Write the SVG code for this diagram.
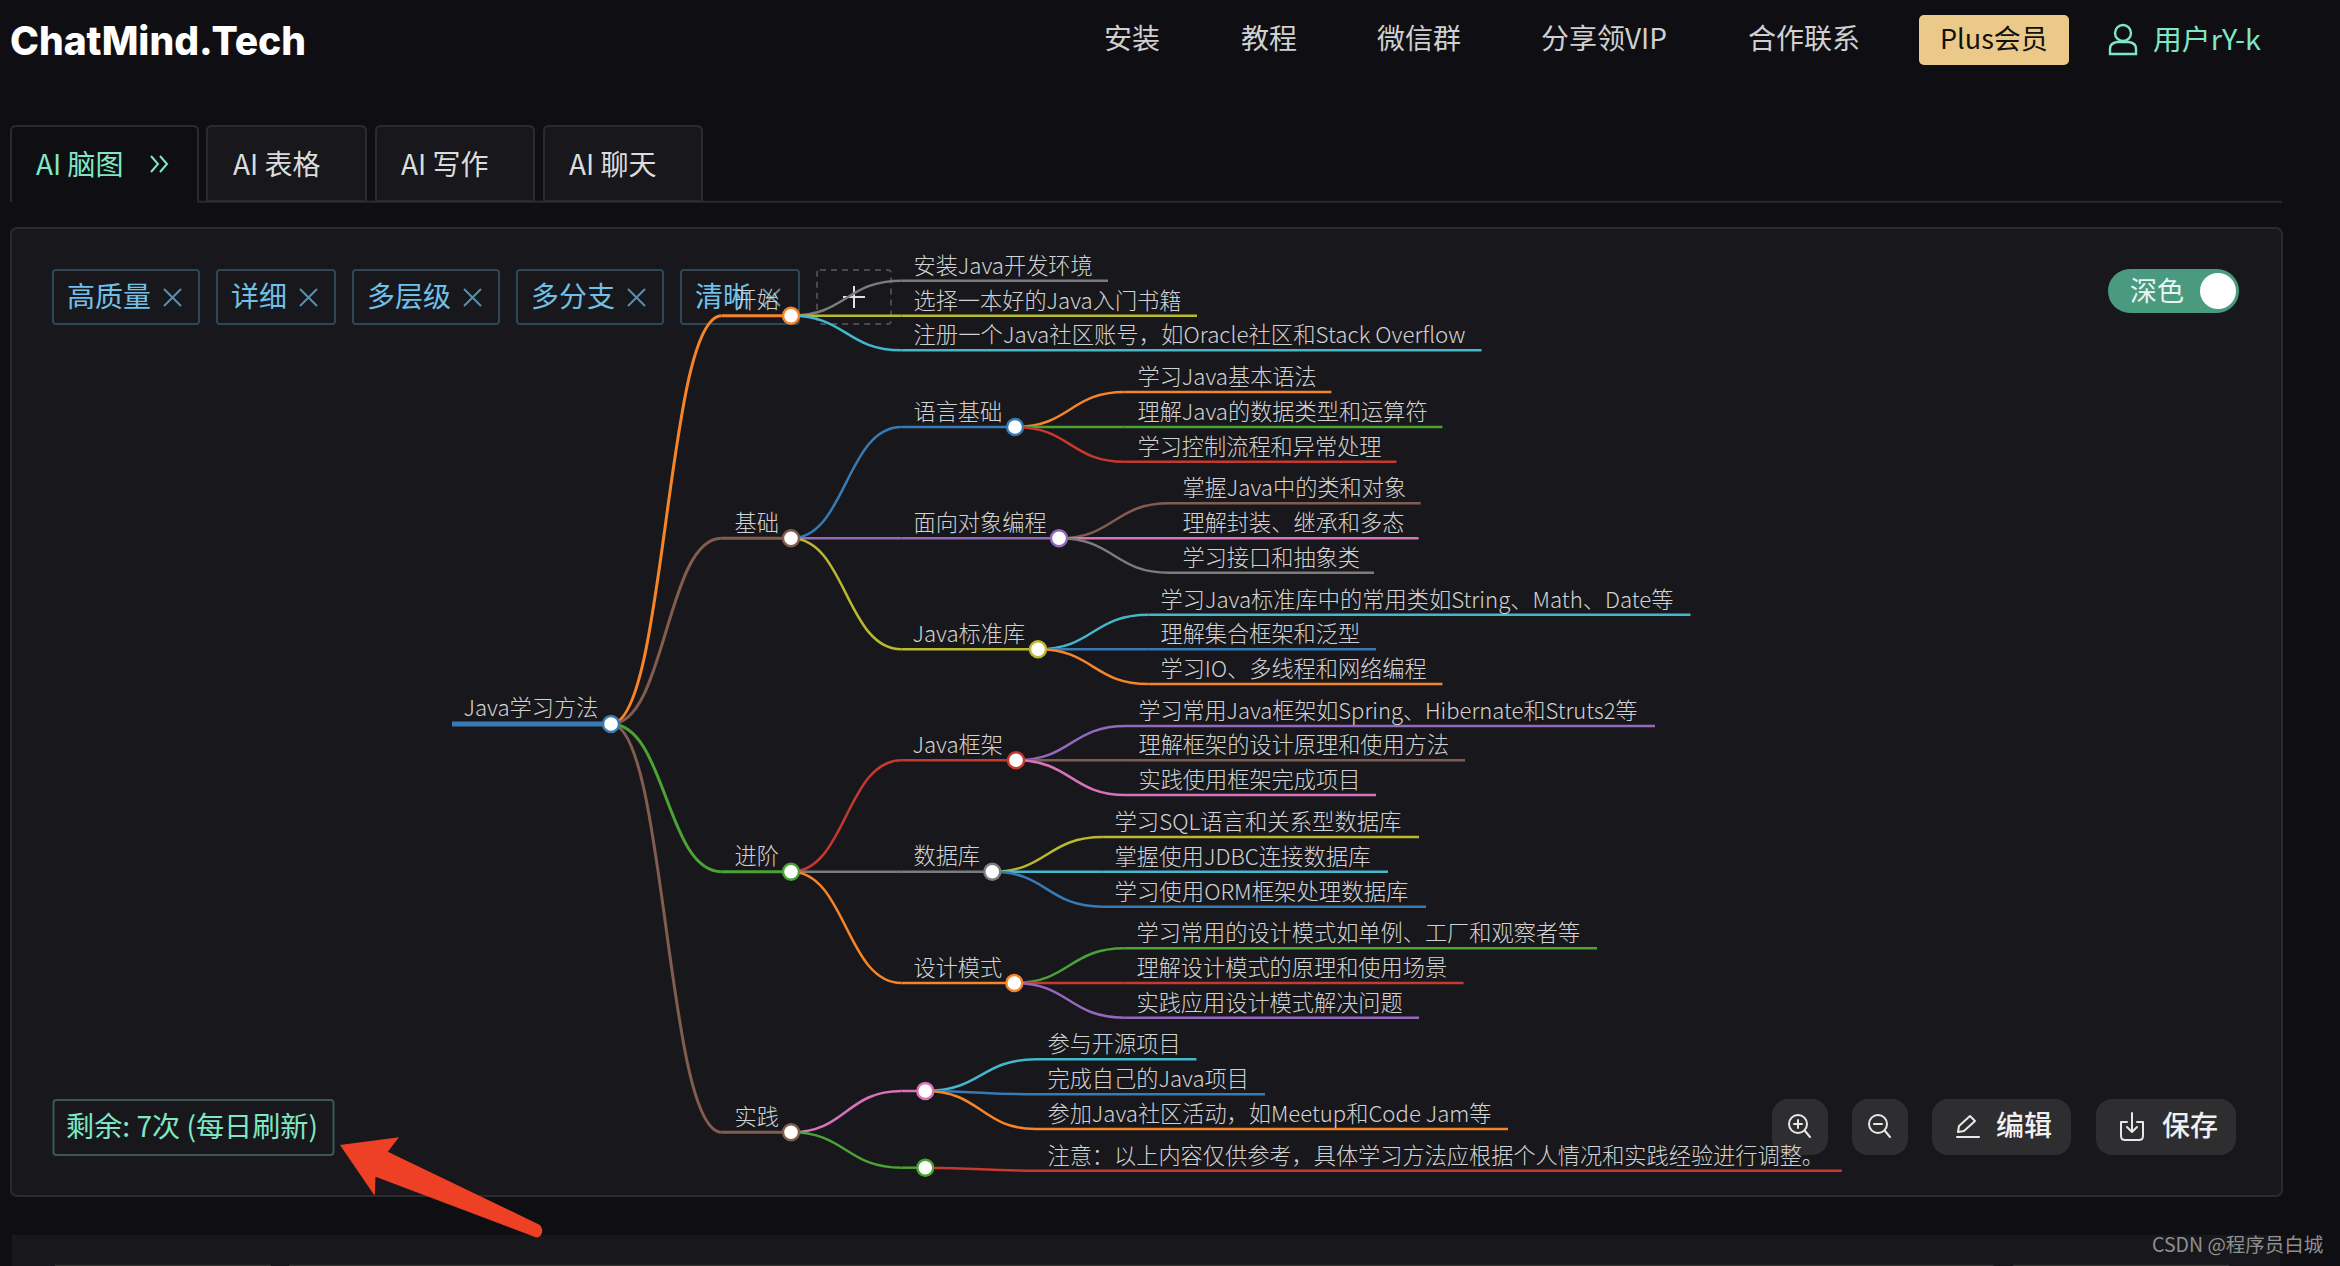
<svg xmlns="http://www.w3.org/2000/svg" width="2340" height="1266" viewBox="0 0 2340 1266">
<style>
text{font-family:"Noto Sans CJK SC","Noto Sans",sans-serif}
.m{font-size:22.2px;fill:#d2d2d2;font-weight:300;transform:translate(-.5px,-1px)}
.nav{font-size:28px;fill:#d0d0d0;font-weight:400}
.tab{font-size:28px;fill:#dcdcdc;font-weight:400}
.tag{font-size:28px;fill:#70c0e8;font-weight:400}
.x{stroke:#5c8ea8;stroke-width:2;fill:none}
.tagb{fill:#18181c;stroke:#2d4757;stroke-width:2}
.btn{fill:#2e2e31}
.ic{stroke:#e8e8e8;stroke-width:2;fill:none;stroke-linecap:round;stroke-linejoin:round}
.bt{font-size:28px;fill:#f0f0f0;font-weight:500}
.tb{fill:#18181c;stroke:#2a2b30;stroke-width:2}
path,line{fill:none}
.l{stroke-width:2.5}
.l1{stroke-width:3}
.blue{stroke:#387bb4}.orange{stroke:#f68428}.grn{stroke:#4aa334}.red{stroke:#c7382f}.purple{stroke:#9468bd}.brown{stroke:#835c50}.pink{stroke:#d873bb}.gray{stroke:#7c7c7c}.olive{stroke:#b9b82f}.cyan{stroke:#43b7cb}
circle.n{fill:#fff;stroke-width:2.4}
</style>
<rect id="bg" width="2340" height="1266" fill="#0f0f13"/>
<rect x="12" y="1235" width="2268" height="31" fill="#18181c"/>
<g stroke="#333" stroke-width="1.5"><line x1="55" y1="1265.5" x2="271" y2="1265.5"/><line x1="289" y1="1265.5" x2="1994" y2="1265.5"/><line x1="2013" y1="1265.5" x2="2229" y2="1265.5"/></g>
<g id="header">
<text x="10" y="55" font-size="40" font-weight="800" fill="#fff" style="font-family:Inter,'Liberation Sans',sans-serif" textLength="296" lengthAdjust="spacingAndGlyphs">ChatMind.Tech</text>
<text class="nav" x="1104" y="49">安装</text>
<text class="nav" x="1241" y="49">教程</text>
<text class="nav" x="1377" y="49">微信群</text>
<text class="nav" x="1541" y="49">分享领VIP</text>
<text class="nav" x="1748" y="49">合作联系</text>
<rect x="1919" y="15" width="150" height="50" rx="5" fill="#ebc988"/>
<text x="1940" y="49" font-size="27" fill="#111">Plus会员</text>
<circle cx="2123" cy="33" r="8" fill="none" stroke="#7fe7c4" stroke-width="2.4"/>
<path d="M2110 54V49Q2110 43 2117 42H2129Q2136 43 2136 49V54Z" stroke="#7fe7c4" stroke-width="2.4"/>
<text class="nav" x="2153" y="50" style="fill:#7fe7c4" textLength="108" lengthAdjust="spacingAndGlyphs">用户rY-k</text>
</g>
<g id="tabs">
<path d="M11 202V131Q11 126 16 126H193Q198 126 198 131V202" fill="#101014" stroke="#2a2b30" stroke-width="2"/>
<path d="M207 201V131Q207 126 212 126H361Q366 126 366 131V201Z" class="tb"/>
<path d="M376 201V131Q376 126 381 126H529Q534 126 534 131V201Z" class="tb"/>
<path d="M544 201V131Q544 126 549 126H697Q702 126 702 131V201Z" class="tb"/>
<line x1="198" y1="201.7" x2="2282" y2="201.7" stroke="#2a2b30" stroke-width="2"/>
<text class="tab" x="36" y="175" style="fill:#7fe7c4">AI 脑图</text>
<path d="M151 156L158 164L151 172M160 156L167 164L160 172" stroke="#7fe7c4" stroke-width="2"/>
<text class="tab" x="233" y="175">AI 表格</text>
<text class="tab" x="401" y="175">AI 写作</text>
<text class="tab" x="569" y="175">AI 聊天</text>
</g>
<rect id="panel" x="11" y="228" width="2271" height="968" rx="6" fill="#18181c" stroke="#2a2b30" stroke-width="2"/>
<g id="tags">
<rect class="tagb" x="53" y="270" width="146" height="54" rx="3"/><text class="tag" x="67" y="307">高质量</text><path class="x" d="M164 289L181 306M181 289L164 306"/>
<rect class="tagb" x="217" y="270" width="118" height="54" rx="3"/><text class="tag" x="231" y="307">详细</text><path class="x" d="M300 289L317 306M317 289L300 306"/>
<rect class="tagb" x="353" y="270" width="146" height="54" rx="3"/><text class="tag" x="367" y="307">多层级</text><path class="x" d="M464 289L481 306M481 289L464 306"/>
<rect class="tagb" x="517" y="270" width="146" height="54" rx="3"/><text class="tag" x="531" y="307">多分支</text><path class="x" d="M628 289L645 306M645 289L628 306"/>
<rect class="tagb" x="681" y="270" width="118" height="54" rx="3"/><text class="tag" x="695" y="307">清晰</text><path class="x" d="M763 289L780 306M780 289L763 306"/>
<rect x="817" y="270" width="74" height="54" rx="3" fill="none" stroke="#4a4a4e" stroke-width="2" stroke-dasharray="6 5"/>
<path d="M843 297H865M854 286V308" stroke="#e0e0e0" stroke-width="2"/>
</g>
<g id="theme-toggle">
<rect x="2108" y="269" width="131" height="44" rx="22" fill="#4a9a80"/>
<circle cx="2218" cy="291" r="18" fill="#fff"/>
<text x="2130" y="301" font-size="27" fill="#e8f4ef">深色</text>
</g>
<g id="remaining">
<rect x="53.500" y="1100" width="280" height="55" rx="3" fill="#18181c" stroke="#3a5a50" stroke-width="2"/>
<text x="66" y="1137" font-size="28" style="fill:#7fe7c4" textLength="252" lengthAdjust="spacingAndGlyphs">剩余: 7次 (每日刷新)</text>
</g>
<g id="toolbar">
<rect class="btn" x="1772" y="1099" width="56" height="56" rx="16"/>
<circle class="ic" cx="1798" cy="1124" r="9"/><path class="ic" d="M1805 1131L1810 1137M1794 1124H1802M1798 1120V1128"/>
<rect class="btn" x="1852" y="1099" width="56" height="56" rx="16"/>
<circle class="ic" cx="1878" cy="1124" r="9"/><path class="ic" d="M1885 1131L1890 1137M1874 1124H1882"/>
<rect class="btn" x="1932" y="1099" width="139" height="56" rx="16"/>
<path class="ic" d="M1958 1132L1959 1126L1970 1116L1975 1121L1964 1131ZM1957 1137H1979"/>
<text class="bt" x="1996" y="1136">编辑</text>
<rect class="btn" x="2096" y="1099" width="140" height="56" rx="16"/>
<path class="ic" d="M2127 1122H2121V1136Q2121 1140 2125 1140H2139Q2143 1140 2143 1136V1122H2137M2132 1113V1132M2127 1127L2132 1132L2137 1127"/>
<text class="bt" x="2162" y="1136">保存</text>
</g>
<g id="connectors" class="l">
<path class="orange l1" d="M611 724C666 724 666 315.700 721.600 315.700"/>
<path class="brown l1" d="M611 724C666 724 666 538.300 721.600 538.300"/>
<path class="grn l1" d="M611 724C666 724 666 871.700 721.600 871.700"/>
<path class="brown l1" d="M611 724C666 724 666 1132.300 721.600 1132.300"/>
<path class="gray" d="M791 315.700C846 315.700 846 280.700 901.600 280.700"/>
<path class="olive" d="M791 315.700H901.600"/>
<path class="cyan" d="M791 315.700C846 315.700 846 350.300 901.600 350.300"/>
<path class="blue" d="M791 538.300C846 538.300 846 427 901.600 427"/>
<path class="purple" d="M791 538.300H901.600"/>
<path class="olive" d="M791 538.300C846 538.300 846 649.300 901.600 649.300"/>
<path class="red" d="M791 871.700C846 871.700 846 760.300 901.600 760.300"/>
<path class="gray" d="M791 871.700H901.600"/>
<path class="orange" d="M791 871.700C846 871.700 846 983 901.600 983"/>
<path class="pink" d="M791 1132.300C846 1132.300 846 1091 901.600 1091"/>
<path class="grn" d="M791 1132.300C846 1132.300 846 1167.700 901.600 1167.700"/>
<path class="orange" d="M1015 427C1070 427 1070 392 1124.600 392"/>
<path class="grn" d="M1015 427H1124.600"/>
<path class="red" d="M1015 427C1070 427 1070 461.700 1124.600 461.700"/>
<path class="brown" d="M1059 538.300C1114 538.300 1114 503.300 1169 503.300"/>
<path class="pink" d="M1059 538.300H1169"/>
<path class="gray" d="M1059 538.300C1114 538.300 1114 572.700 1169 572.700"/>
<path class="cyan" d="M1038 649.300C1093 649.300 1093 614.700 1148.400 614.700"/>
<path class="blue" d="M1038 649.300H1148.400"/>
<path class="orange" d="M1038 649.300C1093 649.300 1093 684 1148.400 684"/>
<path class="purple" d="M1016 760.300C1071 760.300 1071 726 1125.900 726"/>
<path class="brown" d="M1016 760.300H1125.900"/>
<path class="pink" d="M1016 760.300C1071 760.300 1071 795 1125.900 795"/>
<path class="olive" d="M992.300 871.700C1047 871.700 1047 837 1102.800 837"/>
<path class="cyan" d="M992.300 871.700H1102.800"/>
<path class="blue" d="M992.300 871.700C1047 871.700 1047 906.700 1102.800 906.700"/>
<path class="grn" d="M1014.300 983C1069 983 1069 948.300 1124.700 948.300"/>
<path class="red" d="M1014.300 983H1124.700"/>
<path class="purple" d="M1014.300 983C1069 983 1069 1017.700 1124.700 1017.700"/>
<path class="cyan" d="M925.300 1091C981 1091 981 1059.300 1036 1059.300"/>
<path class="blue" d="M925.300 1091C981 1091 981 1094.300 1036 1094.300"/>
<path class="orange" d="M925.300 1091C981 1091 981 1129 1036 1129"/>
<path class="red" d="M925.300 1167.700C981 1167.700 981 1170.700 1036 1170.700"/>
</g>
<g id="n-root"><line class="blue" x1="452" y1="724" x2="611" y2="724" stroke-width="5"/><circle class="n blue" cx="611" cy="724" r="8"/><text class="m" x="464" y="717">Java学习方法</text></g>
<g id="n-start"><line class="orange l1" x1="721.600" y1="315.700" x2="791" y2="315.700"/><circle class="n orange" cx="791" cy="315.700" r="8"/><text class="m" x="735" y="309">开始</text></g>
<g id="n-start-1"><line class="gray l" x1="901.600" y1="280.700" x2="1108" y2="280.700"/><text class="m" x="914" y="275">安装Java开发环境</text></g>
<g id="n-start-2"><line class="olive l" x1="901.600" y1="315.700" x2="1197" y2="315.700"/><text class="m" x="914" y="310">选择一本好的Java入门书籍</text></g>
<g id="n-start-3"><line class="cyan l" x1="901.600" y1="350.300" x2="1481.500" y2="350.300"/><text class="m" x="914" y="344" textLength="552" lengthAdjust="spacingAndGlyphs">注册一个Java社区账号，如Oracle社区和Stack Overflow</text></g>
<g id="n-basic"><line class="brown l1" x1="721.600" y1="538.300" x2="791" y2="538.300"/><circle class="n brown" cx="791" cy="538.300" r="8"/><text class="m" x="735" y="532">基础</text></g>
<g id="n-lang"><line class="blue l" x1="901.600" y1="427" x2="1015" y2="427"/><circle class="n blue" cx="1015" cy="427" r="8"/><text class="m" x="914" y="421">语言基础</text></g>
<g id="n-lang-1"><line class="orange l" x1="1124.600" y1="392" x2="1331.400" y2="392"/><text class="m" x="1138" y="386">学习Java基本语法</text></g>
<g id="n-lang-2"><line class="grn l" x1="1124.600" y1="427" x2="1442.400" y2="427"/><text class="m" x="1138" y="421">理解Java的数据类型和运算符</text></g>
<g id="n-lang-3"><line class="red l" x1="1124.600" y1="461.700" x2="1396.500" y2="461.700"/><text class="m" x="1138" y="456">学习控制流程和异常处理</text></g>
<g id="n-oop"><line class="purple l" x1="901.600" y1="538.300" x2="1059" y2="538.300"/><circle class="n purple" cx="1059" cy="538.300" r="8"/><text class="m" x="914" y="532">面向对象编程</text></g>
<g id="n-oop-1"><line class="brown l" x1="1169" y1="503.300" x2="1420.700" y2="503.300"/><text class="m" x="1183" y="497">掌握Java中的类和对象</text></g>
<g id="n-oop-2"><line class="pink l" x1="1169" y1="538.300" x2="1418.600" y2="538.300"/><text class="m" x="1183" y="532">理解封装、继承和多态</text></g>
<g id="n-oop-3"><line class="gray l" x1="1169" y1="572.700" x2="1374" y2="572.700"/><text class="m" x="1183" y="567">学习接口和抽象类</text></g>
<g id="n-lib"><line class="olive l" x1="901.600" y1="649.300" x2="1038" y2="649.300"/><circle class="n olive" cx="1038" cy="649.300" r="8"/><text class="m" x="913" y="643">Java标准库</text></g>
<g id="n-lib-1"><line class="cyan l" x1="1148.400" y1="614.700" x2="1690.500" y2="614.700"/><text class="m" x="1161" y="609" textLength="513" lengthAdjust="spacingAndGlyphs">学习Java标准库中的常用类如String、Math、Date等</text></g>
<g id="n-lib-2"><line class="blue l" x1="1148.400" y1="649.300" x2="1376" y2="649.300"/><text class="m" x="1161" y="643">理解集合框架和泛型</text></g>
<g id="n-lib-3"><line class="orange l" x1="1148.400" y1="684" x2="1442.400" y2="684"/><text class="m" x="1161" y="678">学习IO、多线程和网络编程</text></g>
<g id="n-adv"><line class="grn l1" x1="721.600" y1="871.700" x2="791" y2="871.700"/><circle class="n grn" cx="791" cy="871.700" r="8"/><text class="m" x="735" y="865">进阶</text></g>
<g id="n-fw"><line class="red l" x1="901.600" y1="760.300" x2="1016" y2="760.300"/><circle class="n red" cx="1016" cy="760.300" r="8"/><text class="m" x="913" y="754">Java框架</text></g>
<g id="n-fw-1"><line class="purple l" x1="1125.900" y1="726" x2="1655" y2="726"/><text class="m" x="1139" y="720" textLength="499" lengthAdjust="spacingAndGlyphs">学习常用Java框架如Spring、Hibernate和Struts2等</text></g>
<g id="n-fw-2"><line class="brown l" x1="1125.900" y1="760.300" x2="1465" y2="760.300"/><text class="m" x="1139" y="754">理解框架的设计原理和使用方法</text></g>
<g id="n-fw-3"><line class="pink l" x1="1125.900" y1="795" x2="1376" y2="795"/><text class="m" x="1139" y="789">实践使用框架完成项目</text></g>
<g id="n-db"><line class="gray l" x1="901.600" y1="871.700" x2="992.300" y2="871.700"/><circle class="n gray" cx="992.300" cy="871.700" r="8"/><text class="m" x="914" y="865">数据库</text></g>
<g id="n-db-1"><line class="olive l" x1="1102.800" y1="837" x2="1419" y2="837"/><text class="m" x="1115" y="831" textLength="287" lengthAdjust="spacingAndGlyphs">学习SQL语言和关系型数据库</text></g>
<g id="n-db-2"><line class="cyan l" x1="1102.800" y1="871.700" x2="1388" y2="871.700"/><text class="m" x="1115" y="866" textLength="256" lengthAdjust="spacingAndGlyphs">掌握使用JDBC连接数据库</text></g>
<g id="n-db-3"><line class="blue l" x1="1102.800" y1="906.700" x2="1426" y2="906.700"/><text class="m" x="1115" y="901" textLength="294" lengthAdjust="spacingAndGlyphs">学习使用ORM框架处理数据库</text></g>
<g id="n-dp"><line class="orange l" x1="901.600" y1="983" x2="1014.300" y2="983"/><circle class="n orange" cx="1014.300" cy="983" r="8"/><text class="m" x="914" y="977">设计模式</text></g>
<g id="n-dp-1"><line class="grn l" x1="1124.700" y1="948.300" x2="1597" y2="948.300"/><text class="m" x="1137" y="942">学习常用的设计模式如单例、工厂和观察者等</text></g>
<g id="n-dp-2"><line class="red l" x1="1124.700" y1="983" x2="1463.600" y2="983"/><text class="m" x="1137" y="977">理解设计模式的原理和使用场景</text></g>
<g id="n-dp-3"><line class="purple l" x1="1124.700" y1="1017.700" x2="1419" y2="1017.700"/><text class="m" x="1137" y="1012">实践应用设计模式解决问题</text></g>
<g id="n-prac"><line class="brown l1" x1="721.600" y1="1132.300" x2="791" y2="1132.300"/><circle class="n brown" cx="791" cy="1132.300" r="8"/><text class="m" x="735" y="1126">实践</text></g>
<g id="n-prac-a"><line class="pink l" x1="901.600" y1="1091" x2="925.300" y2="1091"/><circle class="n pink" cx="925.300" cy="1091" r="8"/></g>
<g id="n-prac-a1"><line class="cyan l" x1="1036" y1="1059.300" x2="1196.400" y2="1059.300"/><text class="m" x="1048" y="1053">参与开源项目</text></g>
<g id="n-prac-a2"><line class="blue l" x1="1036" y1="1094.300" x2="1265" y2="1094.300"/><text class="m" x="1048" y="1088">完成自己的Java项目</text></g>
<g id="n-prac-a3"><line class="orange l" x1="1036" y1="1129" x2="1508" y2="1129"/><text class="m" x="1048" y="1123" textLength="444" lengthAdjust="spacingAndGlyphs">参加Java社区活动，如Meetup和Code Jam等</text></g>
<g id="n-prac-b"><line class="grn l" x1="901.600" y1="1167.700" x2="925.300" y2="1167.700"/><circle class="n grn" cx="925.300" cy="1167.700" r="8"/></g>
<g id="n-prac-b1"><line class="red l" x1="1036" y1="1170.700" x2="1841.800" y2="1170.700"/><text class="m" x="1048" y="1165">注意：以上内容仅供参考，具体学习方法应根据个人情况和实践经验进行调整。</text></g>
<path id="arrow" d="M340 1145L399 1137.300L387.800 1151.700L540 1225Q544 1230 541 1235Q539 1238.500 535 1237L375.500 1176.700L374.700 1195.700Z" style="fill:#ee4024"/>
<text id="watermark" x="2152" y="1252" font-size="19.500" fill="#8f8f8f">CSDN @程序员白城</text>
</svg>
